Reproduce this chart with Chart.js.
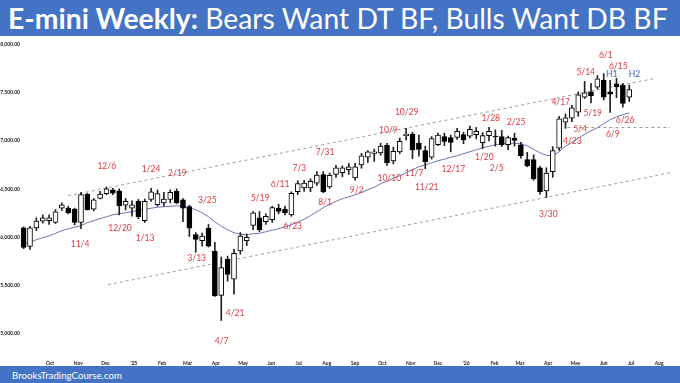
<!DOCTYPE html>
<html>
<head>
<meta charset="utf-8">
<script src="https://cdn.jsdelivr.net/npm/chart.js@4.4.1/dist/chart.umd.min.js"></script>
<style>
  body { margin: 0; width: 680px; height: 383px; overflow: hidden; background: #fff; font-family: Lato, sans-serif; }
  #top { height: 36px; background: #4472c4; color: #fff; white-space: nowrap; position: relative; }
  #title { position: absolute; left: 8px; top: 50%; transform: translateY(-50%); font-size: 22px; }
  #wrap { position: relative; width: 680px; height: 330px; }
  #foot { height: 17px; background: #4472c4; color: #fff; position: relative; white-space: nowrap; }
  #brand { position: absolute; left: 12px; top: 50%; transform: translateY(-50%); font-size: 11px; }
</style>
</head>
<body>
<div id="top"><span id="title"><b>E-mini Weekly:</b> Bears Want DT BF, Bulls Want DB BF</span></div>
<div id="wrap"><canvas id="chart"></canvas></div>
<div id="foot"><span id="brand">BrooksTradingCourse.com</span></div>
<script>
// weekly bars, first bar = week of 2024-09-02
const firstWeek = '2024-09-02';

const open = [6095,5900,6095,6165,6170,6150,6300,6300,6290,6150, 6445,6290,6400,6450,6490,6480,6330,6300,6370,6170,
  6390,6335,6355,6390,6475,6385,6315,6025,5960,6090, 5850,5390,5770,5560,5855,5960,6120,6200,6160,6180,
  6300,6290,6230,6470,6510,6510,6560,6650,6520,6650, 6670,6700,6615,6750,6830,6870,6875,6955,6790,6885,
  7055,7070,6975,6900,6830,6960,7045,7035,7035,7065, 7050,7065,6980,7055,7045,7045,6960,7030,6960,6805,
  6805,6720,6480,6680,6925,7195,7235,7300,7455,7510, 7560,7630,7510,7595,7580,7455];
const high = [6105,6110,6200,6230,6230,6285,6355,6320,6300,6465, 6455,6400,6475,6520,6505,6500,6400,6375,6390,6395,
  6505,6490,6465,6490,6500,6400,6330,6045,6040,6130, 5945,5790,5800,5870,6045,6030,6265,6265,6240,6320,
  6340,6320,6470,6585,6590,6605,6680,6680,6665,6745, 6740,6765,6765,6870,6900,6915,6975,6975,6935,7030,
  7130,7090,7060,6945,7045,7080,7080,7060,7130,7090, 7155,7140,7085,7140,7115,7110,7050,7080,6985,6880,
  6855,6735,6720,6940,7255,7280,7370,7510,7620,7600, 7680,7700,7630,7650,7600,7580];
const low = [5878,5870,6065,6145,6130,6140,6275,6240,6125,6085, 6280,6270,6395,6440,6440,6230,6280,6215,6190,6150,
  6370,6320,6320,6355,6345,6160,6005,5840,5905,5895, 5380,5130,5540,5405,5820,5910,6075,6055,6130,6150,
  6240,6230,6215,6440,6475,6470,6535,6460,6505,6620, 6625,6650,6590,6715,6775,6785,6850,6745,6760,6865,
  7010,6815,6840,6710,6810,6950,6950,6885,7015,6970, 7030,7020,6920,7000,6945,6940,6905,6945,6820,6730,
  6590,6445,6410,6620,6900,7130,7200,7255,7440,7395, 7540,7425,7295,7450,7350,7410];
const close = [5890,6095,6165,6200,6200,6260,6335,6250,6150,6440, 6285,6385,6445,6500,6455,6325,6370,6335,6210,6370,
  6470,6450,6395,6465,6355,6300,6090,5975,6010,5905, 5385,5680,5610,5830,6010,5995,6250,6075,6215,6305,
  6265,6250,6455,6555,6560,6580,6645,6470,6640,6720, 6720,6730,6730,6845,6885,6885,6945,6770,6890,6995,
  7070,6905,6910,6780,7025,7060,6995,6985,7100,7010, 7120,7100,7055,7100,7040,6960,7035,7005,6845,6740,
  6605,6470,6665,6900,7230,7240,7345,7480,7500,7470, 7645,7455,7485,7565,7390,7535];
// moving average
const ma = [5929,5945,5971,5992,6012,6038,6065,6085,6101,6117, 6148,6169,6190,6210,6231,6241,6252,6262,6278,6288,
  6299,6309,6314,6319,6325,6319,6304,6283,6252,6210, 6158,6112,6075,6044,6028,6023,6033,6038,6054,6070,
  6085,6106,6127,6153,6184,6221,6262,6304,6340,6371, 6398,6418,6439,6465,6491,6517,6554,6580,6611,6637,
  6668,6700,6730,6751,6772,6793,6809,6829,6845,6866, 6887,6907,6928,6944,6959,6970,6975,6975,6970,6949,
  6913,6876,6850,6845,6887,6944,6985,7027,7069,7105, 7136,7178,7220,7251,7272,7292];

// channel lines (week, price)
const upperWeeks = [6.96, 98.7], upperPrices = [6429, 7646];
const lowerWeeks = [13.24, 101.4], lowerPrices = [5503, 6668];
const levelWeeks = [85.3, 101.4], levelPrices = [7139, 7139];

const yTicks = [5000, 5500, 6000, 6500, 7000, 7500, 8000];
const monthDates = ['2024-10-01','2024-11-01','2024-12-01','2025-01-01','2025-02-01','2025-03-01','2025-04-01','2025-05-01',
  '2025-06-01','2025-07-01','2025-08-01','2025-09-01','2025-10-01','2025-11-01','2025-12-01','2026-01-01','2026-02-01',
  '2026-03-01','2026-04-01','2026-05-01','2026-06-01','2026-07-01','2026-08-01'];
const monthLabels = ['Oct','Nov','Dec',"'25",'Feb','Mar','Apr','May','Jun','Jul','Aug','Sep','Oct','Nov','Dec',"'26",
  'Feb','Mar','Apr','May','Jun','Jul','Aug'];

const noteText  = ['12/6','1/24','2/19','3/25','11/4','12/20','1/13','3/13','4/7','4/21','5/19','6/11','7/3','7/31','8/1','6/23',
  '9/2','10/9','10/10','10/29','11/7','11/21','12/17','1/20','1/28','2/5','2/25','3/30','4/17','4/23','5/4','5/14','5/19',
  '6/1','6/15','6/9','6/26','H1','H2'];
const noteWeek  = [13.04,19.98,24.11,28.82,8.85,15.12,19.04,27.15,31.07,33.16,37.08,40.22,43.25,47.28,47.28,42.21,
  52.25,57.21,57.36,60.09,61.24,63.23,67.40,72.27,73.27,74.21,77.24,82.31,84.25,86.07,87.28,88.17,89.27,
  91.31,93.29,92.41,94.34,92.25,95.80];
const notePrice = [6734,6707,6665,6380,5919,6093,5989,5780,4912,5201,6405,6543,6717,6879,6363,6109,
  6484,7115,6613,7296,6665,6519,6707,6827,7237,6717,7191,6238,7400,7001,7123,7712,7289,
  7896,7781,7071,7212,7695,7695];

const weekOf = d => (Date.parse(d) - Date.parse(firstWeek)) / (7 * 864e5);
const monthPos = monthDates.map(weekOf);
const idx = open.map((_, i) => i);

const notes = {
  id: 'notes',
  afterDatasetsDraw(chart) {
    const { ctx, scales: { x, y } } = chart;
    ctx.save();
    ctx.font = '8.5px Lato';
    ctx.textAlign = 'center';
    ctx.textBaseline = 'middle';
    noteText.forEach((t, i) => {
      ctx.fillStyle = t[0] === 'H' ? '#3a62c4' : '#e0393e';
      ctx.fillText(t, x.getPixelForValue(noteWeek[i]), y.getPixelForValue(notePrice[i]));
    });
    ctx.restore();
  }
};

const dashed = (wk, pr) => ({
  type: 'line', data: wk.map((w, i) => ({ x: w, y: pr[i] })),
  borderColor: '#9c9c9c', borderWidth: 1, borderDash: [3, 3], pointRadius: 0, order: 5
});

new Chart(document.getElementById('chart'), {
  type: 'bar',
  data: {
    datasets: [
      {
        label: 'body', data: idx.map(i => ({ x: i, y: [open[i], close[i]] })),
        backgroundColor: idx.map(i => close[i] >= open[i] ? '#ffffff' : '#000000'),
        borderColor: '#000', borderWidth: 1, borderSkipped: false, barThickness: 5,
        minBarLength: 1, grouped: false, order: 1
      },
      {
        label: 'wick', data: idx.map(i => ({ x: i, y: [low[i], high[i]] })),
        backgroundColor: '#222', barThickness: 1, grouped: false, order: 2
      },
      {
        type: 'line', label: 'ma', data: idx.map(i => ({ x: i, y: ma[i] })),
        borderColor: '#6f74b3', borderWidth: 1, pointRadius: 0, order: 3
      },
      dashed(upperWeeks, upperPrices),
      dashed(lowerWeeks, lowerPrices),
      dashed(levelWeeks, levelPrices)
    ]
  },
  options: {
    responsive: true,
    maintainAspectRatio: false,
    animation: false,
    devicePixelRatio: 1,
    layout: { padding: { top: 4, left: 0, right: 0, bottom: 0 } },
    plugins: { legend: { display: false }, tooltip: { enabled: false } },
    scales: {
      x: {
        type: 'linear', min: -0.41, max: 102.96, offset: false,
        grid: { display: false, drawTicks: false }, border: { display: false },
        afterBuildTicks: s => { s.ticks = monthPos.map(v => ({ value: v })); },
        afterFit: s => { s.height = 9; },
        ticks: {
          autoSkip: false, maxRotation: 0, padding: 3, color: '#222',
          font: { family: 'Lato', size: 5, weight: 'bold' },
          callback: (v, i) => monthLabels[i]
        }
      },
      y: {
        min: 4750, max: 8050,
        grid: { display: false, drawTicks: false }, border: { display: false },
        afterBuildTicks: s => { s.ticks = yTicks.map(v => ({ value: v })); },
        afterFit: s => { s.width = 21; },
        ticks: {
          padding: 1, color: '#222',
          font: { family: 'Lato', size: 5, weight: 'bold' },
          callback: v => v.toLocaleString('en-US', { minimumFractionDigits: 2 })
        }
      }
    }
  },
  plugins: [notes]
});

function fit(el, width) {
  const w = el.getBoundingClientRect().width;
  const fs = parseFloat(getComputedStyle(el).fontSize);
  el.style.fontSize = (fs * width / w) + 'px';
}
fit(document.getElementById('title'), 660);
fit(document.getElementById('brand'), 110);
</script>
</body>
</html>
